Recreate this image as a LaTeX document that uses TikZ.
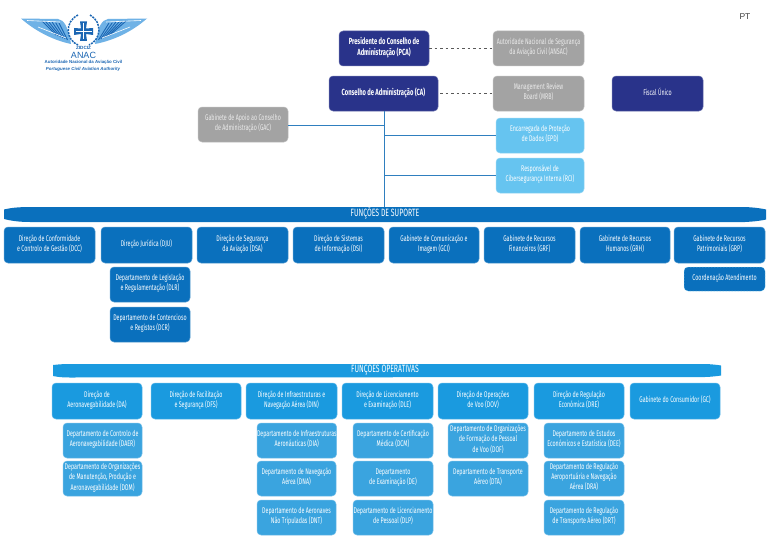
\documentclass[tikz,border=0pt]{standalone}
\usepackage{fontspec}
\setmainfont{Fira Sans}[FakeStretch=0.65]
\newfontfamily\logofont{Liberation Sans}
\definecolor{navy}{HTML}{29338A}
\definecolor{grayb}{HTML}{A3A3A3}
\definecolor{lightb}{HTML}{66C4F0}
\definecolor{supb}{HTML}{0A70BD}
\definecolor{opb}{HTML}{1A9ADF}
\definecolor{subb}{HTML}{3AA4DF}
\definecolor{lineb}{HTML}{2F7FBF}
\definecolor{logob}{HTML}{6FB2E6}
\definecolor{logod}{HTML}{1B66B3}
\tikzset{
  x=1pt,y=-1pt,
  box/.style={draw=#1!70!white,line width=0.5pt,fill=#1,rounded corners=4pt,inner sep=0pt,outer sep=0pt,
    align=center,text=white,font=\fontsize{8.2}{10.3}\selectfont},
  nv/.style={box=navy,font=\fontsize{8.9}{10.3}\selectfont\bfseries},
  gr/.style={box=grayb,text=white!92!black},
  lt/.style={box=lightb},
  sp/.style={box=supb},
  op/.style={box=opb},
  sb/.style={box=subb},
  link/.style={draw=lineb,line width=0.9pt},
  dashlink/.style={draw=black!65,line width=0.6pt,dash pattern=on 2.5pt off 3pt},
  banner/.style={fill=#1,draw=none},
  bt/.style={text=white,font=\fontsize{10.6}{11}\selectfont,inner sep=0pt},
  wingdark/.style={logod,line width=0.9pt},
  wingwhite/.style={white,line width=0.6pt},
  wreath/.style={logod,line width=1.5pt,dash pattern=on 2pt off 1pt},
}
% name, style, x0, y0, x1, y1, text
\newcommand{\bx}[7]{\node[#2,minimum width=#5pt-#3pt,minimum height=#6pt-#4pt,anchor=north west] (#1) at (#3,#4) {#7\\[-6.3pt]\mbox{}};}
\begin{document}
\begin{tikzpicture}
\useasboundingbox (0,0) rectangle (768,543);
\fill[white] (0,0) rectangle (768,543);
% logo
\begin{scope}
 \fill[logob] (21,18.5) -- (58,19) .. controls (64,20) and (68,26) .. (71,44) .. controls (52,40) and (34,30) .. cycle;
 \fill[logob] (147,18.5) -- (108,19) .. controls (102,20) and (98,26) .. (95,44) .. controls (116,40) and (134,30) .. cycle;
 \foreach \i in {0,1,2,3,4,5}{
  \draw[wingdark] ({42+\i*3.4},{21+\i*0.4}) -- ({56+\i*2.3},{35+\i});
  \draw[wingdark] ({126-\i*3.4},{21+\i*0.4}) -- ({110-\i*2.3},{35+\i});
 }
 \draw[wingwhite] (27,20.5) -- (60,22);
 \draw[wingwhite] (141,20.5) -- (106,22);
 \draw[wingwhite] (38,27) -- (66,38);
 \draw[wingwhite] (130,27) -- (102,38);
 \fill[white] (83.5,31) circle (15);
 \draw[wreath] (78,15) .. controls (64,22) and (66,40) .. (78,45);
 \draw[wreath] (90,15) .. controls (103,22) and (101,40) .. (89,45);
 \fill[logod] (80,21.5) -- (87,21.5) -- (86,28.5) -- (93,28) -- (93,35) -- (86,34) -- (87,41) -- (80,41) -- (81,34) -- (74,35) -- (74,28) -- (81,28.5) -- cycle;
 \draw[white,line width=0.5pt] (83.5,23) -- (83.5,39.5) (75.5,31.5) -- (91.5,31.5);
 \node[inner sep=0pt,text=logod,font=\logofont\bfseries\fontsize{4.6}{5}\selectfont] (lgs) at (83.5,47.5) {ZIDCIZ};
 \node[inner sep=0pt,text=logod,font=\logofont\fontsize{9}{9}\selectfont] (lgn) at (83.5,55.5) {ANAC};
 \node[inner sep=0pt,text=logod,font=\logofont\bfseries\fontsize{4.4}{5}\selectfont] (lg1) at (83.5,62.7) {Autoridade Nacional da Aviação Civil};
 \node[inner sep=0pt,text=logod,font=\logofont\bfseries\itshape\fontsize{4.4}{5}\selectfont] (lg2) at (83,69) {Portuguese Civil Aviation Authority};
\end{scope}
\node[inner sep=0pt,font=\logofont\fontsize{8.5}{10}\selectfont,text=black!75] (pt) at (745,17) {PT};
% top boxes
\bx{PCA}{nv}{339}{31}{429}{66}{Presidente do Conselho de\\Administração (PCA)}
\bx{ANSAC}{gr}{493}{31}{584}{66}{Autoridade Nacional de Segurança\\da Aviação Civil (ANSAC)}
\bx{CA}{nv}{329}{76}{438}{111}{Conselho de Administração (CA)}
\bx{MRB}{gr}{493}{76}{584}{111}{Management Review\\Board (MRB)}
\bx{FU}{box=navy}{612}{76}{703}{111}{Fiscal Único}
\bx{GAC}{gr}{198}{107}{288}{142}{Gabinete de Apoio ao Conselho\\de Administração (GAC)}
\bx{EPD}{lt}{496}{118}{584}{153}{Encarregada de Proteção\\de Dados (EPD)}
\bx{RCI}{lt}{496}{158}{584}{193}{Responsável de\\Cibersegurança Interna (RCI)}
% banners
\fill[banner=supb] (4,209.5) .. controls (10,208) and (18,207) .. (30,207) -- (745,207) .. controls (755,207.5) and (762,208.5) .. (766,209.5) -- (766,219.5) .. controls (762,220.5) and (755,221.5) .. (745,222) -- (30,222) .. controls (18,222) and (10,220.5) .. (4,219) -- cycle;
\coordinate (supTop) at (384,207);
\node[bt] (supT) at (385,213) {FUNÇÕES DE SUPORTE};
\fill[banner=opb] (53,365) .. controls (58,364.5) and (62,364) .. (70,364) -- (705,364) .. controls (712,364.2) and (718,365) .. (721,365.5) -- (721,375.5) .. controls (718,376) and (712,376.8) .. (705,377) -- (70,377.5) .. controls (62,377.5) and (58,377) .. (53,376) -- cycle;
\node[bt] (opT) at (385,369.5) {FUNÇÕES OPERATIVAS};
% connectors
\draw[dashlink] (PCA.east) -- (ANSAC.west);
\draw[dashlink] (CA.east) ++(2,0) -- (MRB.west);
\coordinate (ca0) at (384,111);
\draw[link] (ca0) -- (supTop);
\draw[link] (GAC.east |- 0,125) -- (384,125);
\draw[link] (384,135) -- (EPD.west |- 0,135);
\draw[link] (384,175) -- (RCI.west |- 0,175);
% support
\bx{DCC}{sp}{4}{227}{95}{263}{Direção de Conformidade\\e Controlo de Gestão (DCC)}
\bx{DJU}{sp}{101}{227}{192}{263}{Direção Jurídica (DJU)}
\bx{DSA}{sp}{197}{227}{288}{263}{Direção de Segurança\\da Aviação (DSA)}
\bx{DSI}{sp}{293}{227}{384}{263}{Direção de Sistemas\\de Informação (DSI)}
\bx{GCI}{sp}{389}{227}{479}{263}{Gabinete de Comunicação e\\Imagem (GCI)}
\bx{GRF}{sp}{484}{227}{575}{263}{Gabinete de Recursos\\Financeiros (GRF)}
\bx{GRH}{sp}{580}{227}{670}{263}{Gabinete de Recursos\\Humanos (GRH)}
\bx{GRP}{sp}{674}{227}{765}{263}{Gabinete de Recursos\\Patrimoniais (GRP)}
\bx{DLR}{sp}{110}{267}{190}{302}{Departamento de Legislação\\e Regulamentação (DLR)}
\bx{DCR}{sp}{110}{307}{190}{342}{Departamento de Contencioso\\e Registos (DCR)}
\bx{COA}{sp,draw=cyan!50!white,densely dotted}{684}{267}{765}{291}{Coordenação Atendimento}
% operative
\bx{DA}{op}{52}{383}{142}{419}{Direção de\\Aeronavegabilidade (DA)}
\bx{DFS}{op}{151}{383}{241}{419}{Direção de Facilitação\\e Segurança (DFS)}
\bx{DIN}{op}{246}{383}{337}{419}{Direção de Infraestruturas e\\Navegação Aérea (DIN)}
\bx{DLE}{op}{342}{383}{433}{419}{Direção de Licenciamento\\e Examinação (DLE)}
\bx{DOV}{op}{438}{383}{528}{419}{Direção de Operações\\de Voo (DOV)}
\bx{DRE}{op}{534}{383}{624}{419}{Direção de Regulação\\Económica (DRE)}
\bx{GC}{op}{630}{383}{720}{419}{Gabinete do Consumidor (GC)}
\bx{DAER}{sb}{63}{423}{142}{458}{Departamento de Controlo de\\Aeronavegabilidade (DAER)}
\bx{DOM}{sb}{63}{461}{142}{496}{Departamento de Organizações\\de Manutenção, Produção e\\Aeronavegabilidade (DOM)}
\bx{DIA}{sb}{257}{423}{336}{458}{Departamento de Infraestruturas\\Aeronáuticas (DIA)}
\bx{DNA}{sb}{257}{461}{336}{496}{Departamento de Navegação\\Aérea (DNA)}
\bx{DNT}{sb}{257}{500}{336}{535}{Departamento de Aeronaves\\Não Tripuladas (DNT)}
\bx{DCM}{sb}{353}{423}{433}{458}{Departamento de Certificação\\Médica (DCM)}
\bx{DE}{sb}{353}{461}{433}{496}{Departamento\\de Examinação (DE)}
\bx{DLP}{sb}{353}{500}{433}{535}{Departamento de Licenciamento\\de Pessoal (DLP)}
\bx{DOF}{sb}{448}{423}{528}{458}{Departamento de Organizações\\de Formação de Pessoal\\de Voo (DOF)}
\bx{DTA}{sb}{448}{461}{528}{496}{Departamento de Transporte\\Aéreo (DTA)}
\bx{DEE}{sb}{544}{423}{624}{458}{Departamento de Estudos\\Económicos e Estatística (DEE)}
\bx{DRA}{sb}{544}{461}{624}{496}{Departamento de Regulação\\Aeroportuária e Navegação\\Aérea (DRA)}
\bx{DRT}{sb}{544}{500}{624}{535}{Departamento de Regulação\\de Transporte Aéreo (DRT)}
\end{tikzpicture}
\end{document}
